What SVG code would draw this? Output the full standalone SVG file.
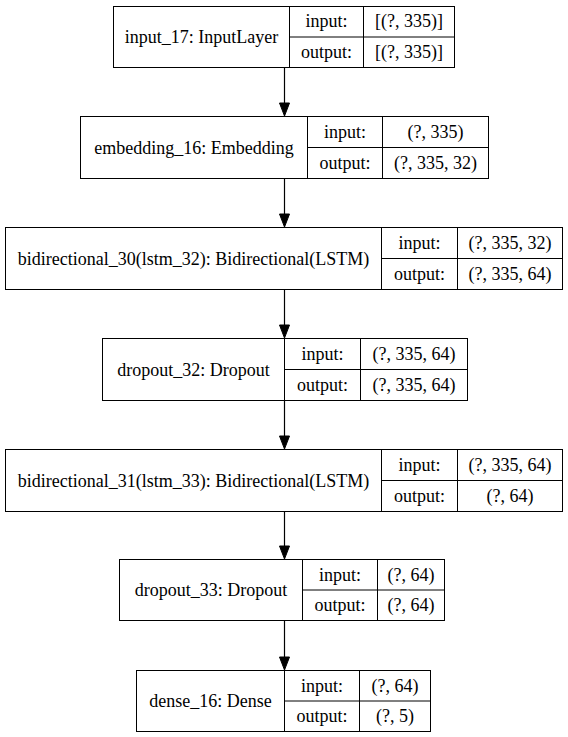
<svg xmlns="http://www.w3.org/2000/svg" width="568" height="737" viewBox="0 0 568 737">
<style>
.box{fill:#fff;stroke:#000;stroke-width:1}
.ln{stroke:#000;stroke-width:1;fill:none}
text{font-family:"Liberation Serif","Times New Roman",serif;font-size:18px;fill:#000;text-anchor:middle}
.edge{stroke:#000;stroke-width:1.2;fill:none}
.ah{fill:#000;stroke:#000;stroke-width:1}
</style>
<rect width="568" height="737" fill="#fff"/>
<g id="connectors">
<line class="edge" x1="284.5" y1="67" x2="284.5" y2="104"/>
<polygon class="ah" points="279.5,103 289.5,103 284.5,116"/>
<line class="edge" x1="284.5" y1="178" x2="284.5" y2="215"/>
<polygon class="ah" points="279.5,214 289.5,214 284.5,227"/>
<line class="edge" x1="284.5" y1="289" x2="284.5" y2="326"/>
<polygon class="ah" points="279.5,325 289.5,325 284.5,338"/>
<line class="edge" x1="284.5" y1="400" x2="284.5" y2="437"/>
<polygon class="ah" points="279.5,436 289.5,436 284.5,449"/>
<line class="edge" x1="284.5" y1="511" x2="284.5" y2="547"/>
<polygon class="ah" points="279.5,546 289.5,546 284.5,559"/>
<line class="edge" x1="284.5" y1="620" x2="284.5" y2="658"/>
<polygon class="ah" points="279.5,657 289.5,657 284.5,670"/>
</g>
<g id="input_17">
<rect class="box" x="113.5" y="6.5" width="341" height="61"/>
<line class="ln" x1="289.5" y1="6.5" x2="289.5" y2="67.5"/>
<line class="ln" x1="363.5" y1="6.5" x2="363.5" y2="67.5"/>
<line class="ln" x1="289.5" y1="37" x2="454.5" y2="37"/>
<text x="201.5" y="43">input_17: InputLayer</text>
<text x="326.5" y="27">input:</text>
<text x="326.5" y="58">output:</text>
<text x="409" y="27">[(?, 335)]</text>
<text x="409" y="58">[(?, 335)]</text>
</g>
<g id="embedding_16">
<rect class="box" x="80.5" y="116.5" width="408" height="62"/>
<line class="ln" x1="307.5" y1="116.5" x2="307.5" y2="178.5"/>
<line class="ln" x1="382.5" y1="116.5" x2="382.5" y2="178.5"/>
<line class="ln" x1="307.5" y1="147.5" x2="488.5" y2="147.5"/>
<text x="194" y="153.5">embedding_16: Embedding</text>
<text x="345" y="138">input:</text>
<text x="345" y="169">output:</text>
<text x="435.5" y="138">(?, 335)</text>
<text x="435.5" y="169">(?, 335, 32)</text>
</g>
<g id="bidirectional_30">
<rect class="box" x="5.5" y="227.5" width="557" height="62"/>
<line class="ln" x1="381.5" y1="227.5" x2="381.5" y2="289.5"/>
<line class="ln" x1="457.5" y1="227.5" x2="457.5" y2="289.5"/>
<line class="ln" x1="381.5" y1="258.5" x2="562.5" y2="258.5"/>
<text x="193.5" y="264.5">bidirectional_30(lstm_32): Bidirectional(LSTM)</text>
<text x="419.5" y="249">input:</text>
<text x="419.5" y="280">output:</text>
<text x="510" y="249">(?, 335, 32)</text>
<text x="510" y="280">(?, 335, 64)</text>
</g>
<g id="dropout_32">
<rect class="box" x="102.5" y="338.5" width="365" height="62"/>
<line class="ln" x1="284.5" y1="338.5" x2="284.5" y2="400.5"/>
<line class="ln" x1="360.5" y1="338.5" x2="360.5" y2="400.5"/>
<line class="ln" x1="284.5" y1="369.5" x2="467.5" y2="369.5"/>
<text x="193.5" y="375.5">dropout_32: Dropout</text>
<text x="322.5" y="360">input:</text>
<text x="322.5" y="391">output:</text>
<text x="414" y="360">(?, 335, 64)</text>
<text x="414" y="391">(?, 335, 64)</text>
</g>
<g id="bidirectional_31">
<rect class="box" x="5.5" y="449.5" width="557" height="62"/>
<line class="ln" x1="381.5" y1="449.5" x2="381.5" y2="511.5"/>
<line class="ln" x1="457.5" y1="449.5" x2="457.5" y2="511.5"/>
<line class="ln" x1="381.5" y1="480.5" x2="562.5" y2="480.5"/>
<text x="193.5" y="486.5">bidirectional_31(lstm_33): Bidirectional(LSTM)</text>
<text x="419.5" y="471">input:</text>
<text x="419.5" y="502">output:</text>
<text x="510" y="471">(?, 335, 64)</text>
<text x="510" y="502">(?, 64)</text>
</g>
<g id="dropout_33">
<rect class="box" x="119.5" y="559.5" width="325" height="61"/>
<line class="ln" x1="302.5" y1="559.5" x2="302.5" y2="620.5"/>
<line class="ln" x1="377.5" y1="559.5" x2="377.5" y2="620.5"/>
<line class="ln" x1="302.5" y1="590" x2="444.5" y2="590"/>
<text x="211" y="596">dropout_33: Dropout</text>
<text x="340" y="580.5">input:</text>
<text x="340" y="611">output:</text>
<text x="411" y="580.5">(?, 64)</text>
<text x="411" y="611">(?, 64)</text>
</g>
<g id="dense_16">
<rect class="box" x="136.5" y="670.5" width="294" height="61"/>
<line class="ln" x1="284.5" y1="670.5" x2="284.5" y2="731.5"/>
<line class="ln" x1="359.5" y1="670.5" x2="359.5" y2="731.5"/>
<line class="ln" x1="284.5" y1="701" x2="430.5" y2="701"/>
<text x="210.5" y="707">dense_16: Dense</text>
<text x="322" y="691.5">input:</text>
<text x="322" y="722">output:</text>
<text x="395" y="691.5">(?, 64)</text>
<text x="395" y="722">(?, 5)</text>
</g>
</svg>
